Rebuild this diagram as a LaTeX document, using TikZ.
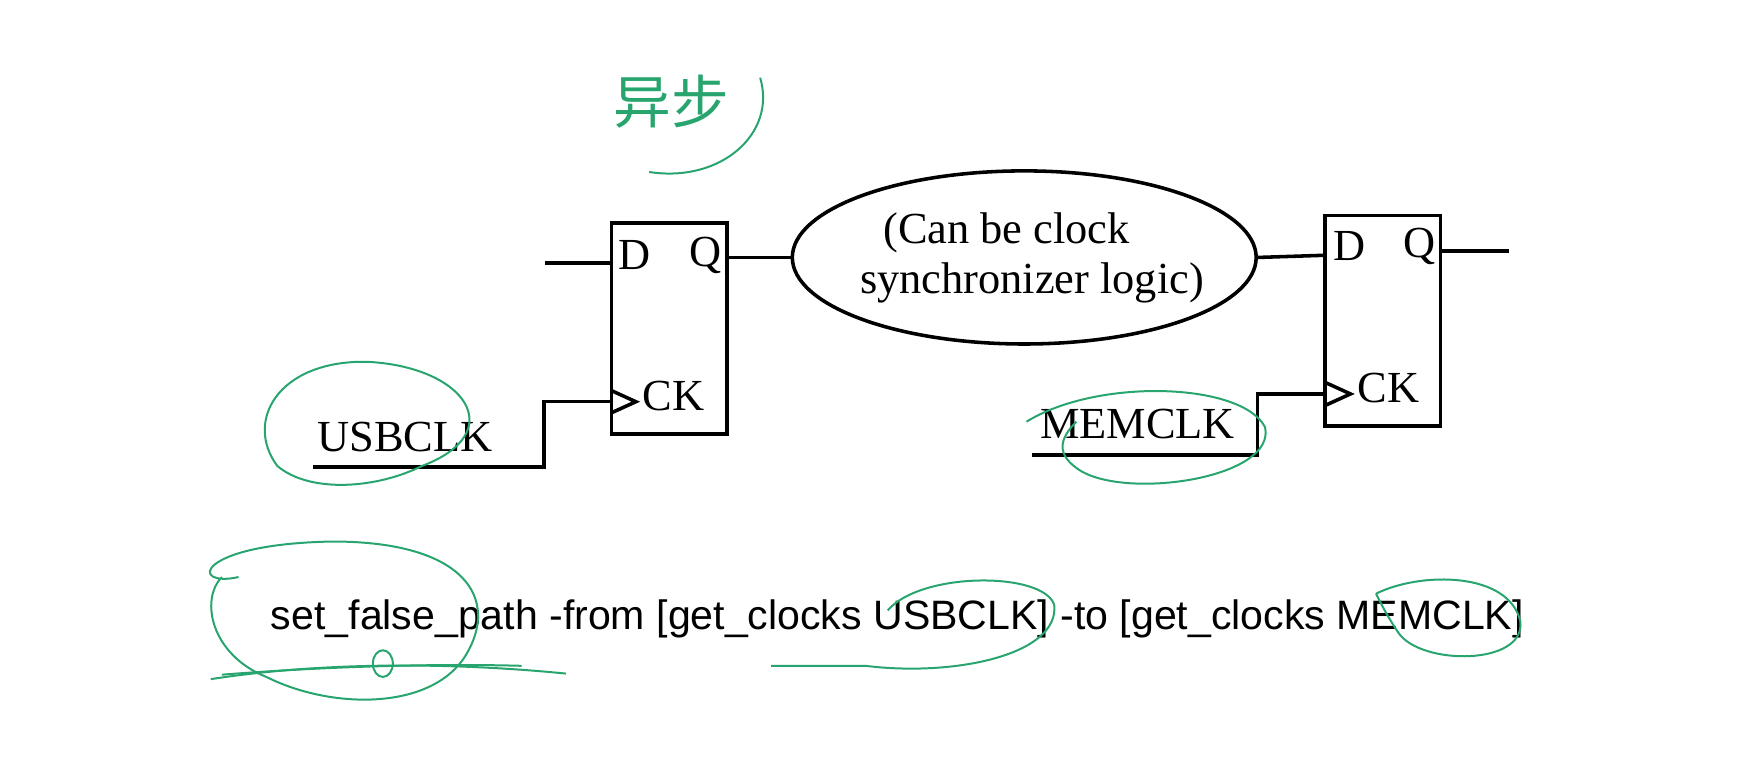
\documentclass[tikz,border=0pt]{standalone}
\usepackage{fontspec}
\setmainfont{Liberation Serif}
\newfontfamily\arialf{Liberation Sans}
\newfontfamily\cjk{Noto Sans CJK SC}
\usetikzlibrary{shapes.geometric}
\definecolor{pen}{RGB}{40,165,110}
\begin{document}
\begin{tikzpicture}[x=1pt,y=-1pt,
  wire/.style={line width=3.2pt},
  ffbox/.style={draw,line width=3.2pt,minimum width=104pt,minimum height=190pt,inner sep=0pt},
  lbl/.style={font=\fontsize{40}{44}\selectfont,inner sep=0pt},
  ink/.style={draw=pen,line width=1.8pt}]
\useasboundingbox (0,0) rectangle (1568,703);
% left FF
\node[ffbox] (ff1) at (603,296) {};
\node[lbl] (d1) at (572,230) {D};
\node[lbl] (q1) at (636,230) {Q};
\node[lbl] (ck1) at (607,357) {CK};
\draw[wire] (551,352) -- (573,362) -- (551,372);
\coordinate (in1) at (491,237);
\draw[wire] (in1) -- (551,237);
% ellipse
\node[draw,ellipse,line width=3.2pt,minimum width=418pt,minimum height=156pt] (logic) at (923,232) {};
\node[lbl] (t1) at (907,210) {(Can be clock};
\node[lbl] (t2) at (930,255) {synchronizer logic)};
\draw[wire] (655,232) -- (logic.west);
% right FF
\node[ffbox] (ff2) at (1246,289) {};
\node[lbl] (d2) at (1216,222) {D};
\node[lbl] (q2) at (1279,222) {Q};
\node[lbl] (ck2) at (1251,350) {CK};
\draw[wire] (1195,345) -- (1217,355) -- (1195,365);
\draw[wire] (logic.east) -- (1195,230);
\coordinate (out2) at (1360,226);
\draw[wire] (1298,226) -- (out2);
% clocks
\node[lbl] (usb) at (365,394) {USBCLK};
\node[lbl] (mem) at (1025,382) {MEMCLK};
\draw[wire] (282,421) -- (490,421) -- (490,362) -- (551,362);
\draw[wire] (930,410) -- (1133,410) -- (1133,355) -- (1195,355);
% command
\node[font=\arialf\fontsize{37}{42}\selectfont,inner sep=0pt,anchor=west] (cmd) at (244,558)
  {set\_false\_path -from [get\_clocks USBCLK] -to [get\_clocks MEMCLK]};
% annotations
\node[text=pen,font=\cjk\fontsize{52}{56}\selectfont] (yibu) at (605,92) {异步};
\draw[ink] (585,155) .. controls (650,165) and (700,120) .. (685,70);
\draw[ink] (380,420) .. controls (460,390) and (420,330) .. (330,326) .. controls (250,325) and (220,380) .. (250,420) .. controls (280,445) and (340,440) .. (380,420);
\draw[ink] (925,380) .. controls (990,340) and (1120,345) .. (1140,385) .. controls (1150,430) and (1020,450) .. (975,425) .. controls (950,410) and (955,395) .. (970,380);
\draw[ink] (215,520) .. controls (170,530) and (175,490) .. (300,488) .. controls (420,488) and (450,540) .. (420,590) .. controls (390,640) and (300,640) .. (240,610) .. controls (190,590) and (180,540) .. (200,520);
\draw[ink] (190,612) .. controls (300,595) and (420,598) .. (510,607);
\draw[ink] (200,608) .. controls (300,600) and (400,598) .. (470,600);
\draw[ink] (345,598) circle[x radius=9,y radius=12];
\draw[ink] (800,550) .. controls (830,515) and (940,515) .. (950,545) .. controls (955,590) and (860,610) .. (780,600) .. controls (740,600) and (700,600) .. (695,600);
\draw[ink] (1240,535) .. controls (1280,515) and (1360,515) .. (1370,560) .. controls (1375,600) and (1280,600) .. (1260,570) .. controls (1250,555) and (1245,545) .. (1240,535);
\end{tikzpicture}
\end{document}
